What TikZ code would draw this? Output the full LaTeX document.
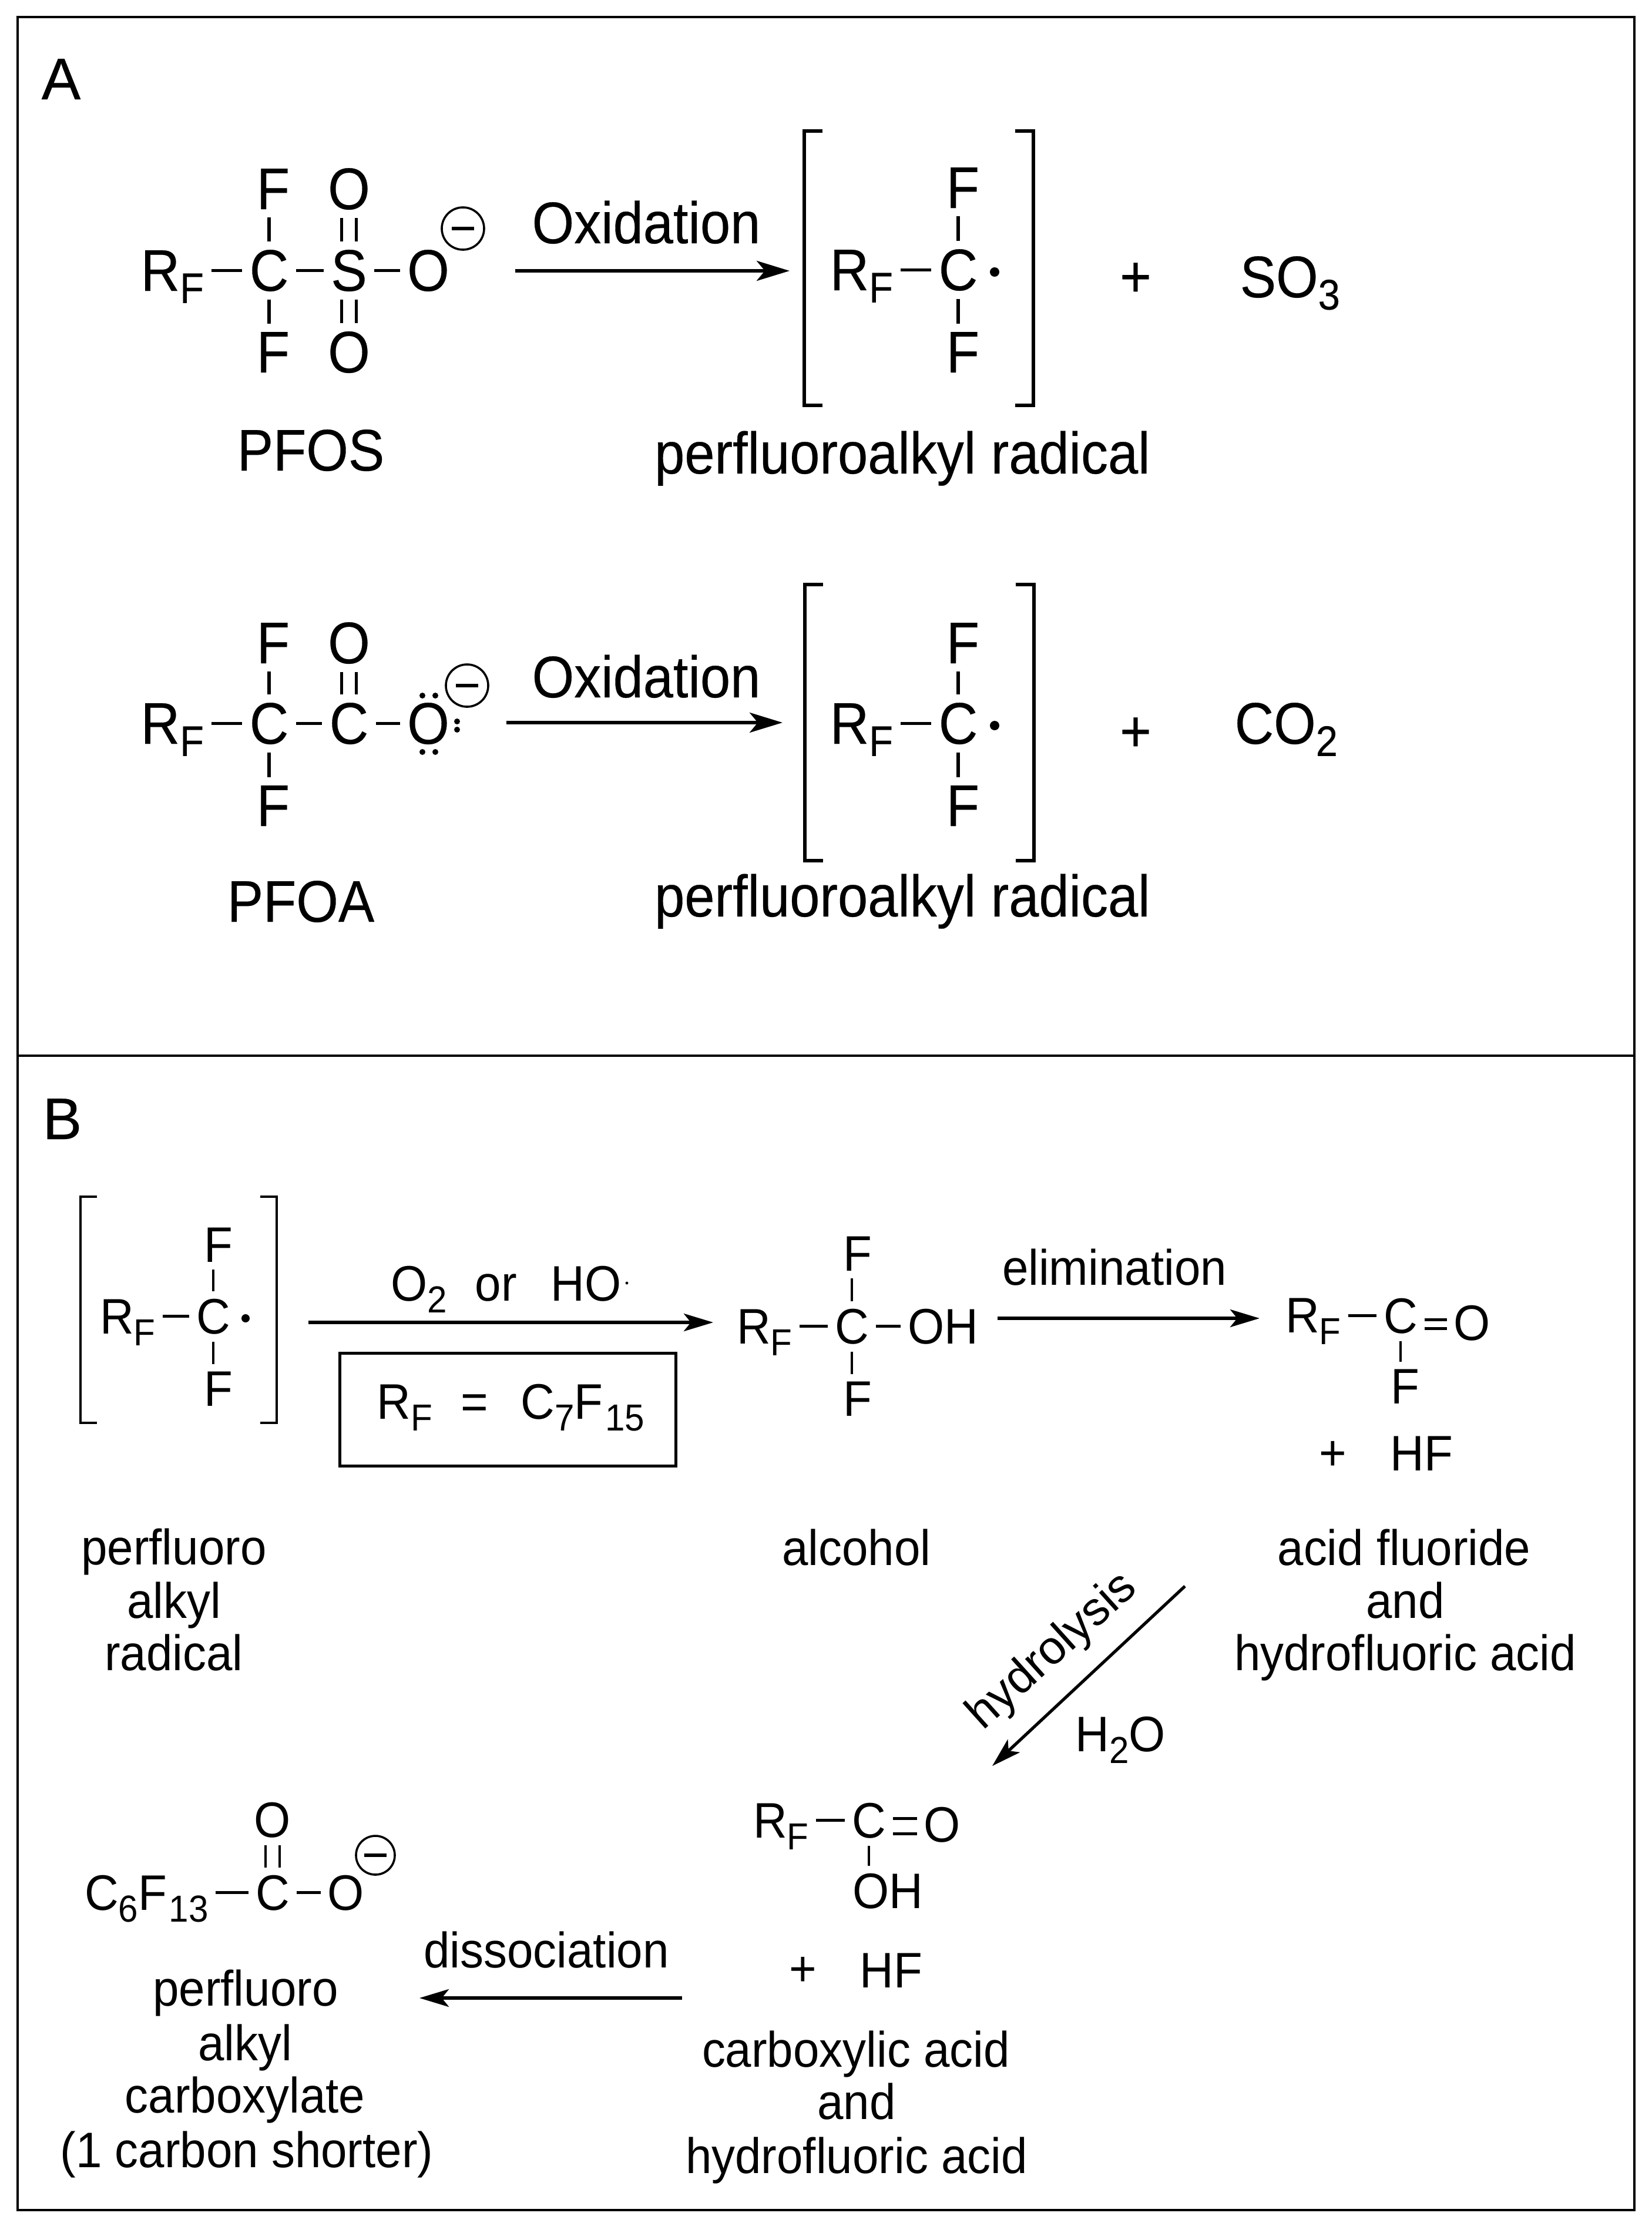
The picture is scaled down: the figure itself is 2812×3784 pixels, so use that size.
\documentclass[tikz,border=0pt]{standalone}
\usepackage{fontspec}
\setmainfont{Liberation Sans}
\newfontfamily\afont[FakeBold=0.3]{Liberation Sans}
\usetikzlibrary{arrows.meta}
\newcommand\fontA{\afont\fontsize{25}{30}\selectfont}
\newcommand\fontB{\normalfont\fontsize{21.25}{26}\selectfont}
\newcommand\sbA[1]{\raisebox{-5.2pt}{\fontsize{18.2}{20}\selectfont #1}}
\newcommand\sbB[1]{\raisebox{-5pt}{\fontsize{16}{18}\selectfont #1}}
\tikzset{
  atomA/.style={font=\fontA,xscale=.92,inner sep=3.25pt,anchor=base},
  atomB/.style={font=\fontB,xscale=.94,inner sep=3pt,anchor=base},
  lblA/.style={atomA,inner sep=0pt},
  lblB/.style={atomB,inner sep=0pt},
  bondA/.style={line width=1.3pt},
  bondB/.style={line width=1.15pt},
  brkA/.style={line width=1.4pt,line cap=butt,line join=miter},
  brkB/.style={line width=1.2pt,line cap=butt,line join=miter},
  arrA/.style={line width=1.4pt,-{Stealth[length=14pt,width=8.5pt,inset=3.5pt]}},
  arrB/.style={line width=1.3pt,-{Stealth[length=12.5pt,width=7.5pt,inset=3pt]}},
  frameline/.style={line width=1.2pt},
  chg/.style={circle,draw,line width=.9pt,inner sep=0pt,minimum size=#1,
    path picture={\draw[line width=1.3pt] ([xshift=-4.8pt]path picture bounding box.center) -- ([xshift=4.8pt]path picture bounding box.center);}},
  lp/.style={circle,fill=black,inner sep=0pt,minimum size=2.5pt},
  rdot/.style={circle,fill=black,inner sep=0pt,minimum size=4pt},
}
\newcommand\brk[6]{\draw[#1] (#2+#6,#4) -| (#2,#5) -- (#2+#6,#5);
  \draw[#1] (#3-#6,#4) -| (#3,#5) -- (#3-#6,#5);}
\newcommand\radA[4]{%
  \node[atomA,anchor=base west] (rf#1) at (1400,#2) {R\sbA{F}};
  \node[atomA] (c#1) at (1631,#2) {C};
  \node[atomA] (ft#1) at (1639,#3) {F};
  \node[atomA] (fb#1) at (1639,#4) {F};
  \node[rdot] (d#1) at (1693,#2-31) {};
  \draw[bondA] (c#1.west -| rf#1.east) -- (c#1.west);
  \draw[bondA] (c#1.north) -- (c#1.north |- ft#1.south);
  \draw[bondA] (c#1.south) -- (c#1.south |- fb#1.north);
}
\begin{document}
\begin{tikzpicture}[x=.25pt,y=-.25pt]
\useasboundingbox (0,0) rectangle (2812,3784);
% frames
\draw[frameline] (30,29) rectangle (2782,1797);
\draw[frameline] (30,1797) rectangle (2782,3762);
\node[font=\fontA,inner sep=0pt,anchor=base] (lA) at (104,169) {A};
\node[font=\fontA,inner sep=0pt,anchor=base] (lB) at (106,1939) {B};

% ---- PFOS
\node[atomA,anchor=base west] (rfa) at (227,495) {R\sbA{F}};
\node[atomA] (ca) at (458,495) {C};
\node[atomA] (fta) at (465,356) {F};
\node[atomA] (fba) at (465,634) {F};
\node[atomA] (sa) at (594,495) {S};
\node[atomA] (ota) at (594,356) {O};
\node[atomA] (oba) at (594,634) {O};
\node[atomA] (oa) at (729,495) {O};
\node[chg=18pt] (cha) at (788,389) {};
\draw[bondA] (ca.west -| rfa.east) -- (ca.west);
\draw[bondA] (ca.east) -- (sa.west);
\draw[bondA] (sa.east) -- (oa.west);
\draw[bondA] (ca.north) -- (ca.north |- fta.south);
\draw[bondA] (ca.south) -- (ca.south |- fba.north);
\draw[bondA] ([xshift=-3.1pt]ota.south) -- ([xshift=-3.1pt]sa.north);
\draw[bondA] ([xshift=3.1pt]ota.south) -- ([xshift=3.1pt]sa.north);
\draw[bondA] ([xshift=-3.1pt]sa.south) -- ([xshift=-3.1pt]oba.north);
\draw[bondA] ([xshift=3.1pt]sa.south) -- ([xshift=3.1pt]oba.north);
\coordinate (a1s) at (877,461);
\coordinate (a1e) at (1344,461);
\draw[arrA] (a1s) -- (a1e);
\node[lblA] (ox1) at (1100,414) {Oxidation};
\node[lblA] (pfos) at (529,801) {PFOS};
\brk{brkA}{1369}{1759}{223}{690}{31}
\radA{p}{494}{354}{634}
\node[lblA] (plus1) at (1933,505) {+};
\node[lblA,anchor=base west] (so3) at (2110,506) {SO\sbA{3}};
\node[lblA] (pr1) at (1536,806) {perfluoroalkyl radical};

% ---- PFOA
\node[atomA,anchor=base west] (rfb) at (227,1266) {R\sbA{F}};
\node[atomA] (cb) at (458,1266) {C};
\node[atomA] (ftb) at (465,1129) {F};
\node[atomA] (fbb) at (465,1406) {F};
\node[atomA] (c2b) at (594,1266) {C};
\node[atomA] (otb) at (594,1129) {O};
\node[atomA] (ob) at (729,1266) {O};
\node[chg=18pt] (chb) at (795,1167) {};
\draw[bondA] (cb.west -| rfb.east) -- (cb.west);
\draw[bondA] (cb.east) -- (c2b.west);
\draw[bondA] (c2b.east) -- (ob.west);
\draw[bondA] (cb.north) -- (cb.north |- ftb.south);
\draw[bondA] (cb.south) -- (cb.south |- fbb.north);
\draw[bondA] ([xshift=-3.1pt]otb.south) -- ([xshift=-3.1pt]c2b.north);
\draw[bondA] ([xshift=3.1pt]otb.south) -- ([xshift=3.1pt]c2b.north);
\node[lp] (lp1) at (719,1184) {};
\node[lp] (lp2) at (741,1184) {};
\node[lp] (lp3) at (719,1280) {};
\node[lp] (lp4) at (741,1280) {};
\node[lp] (lp5) at (778,1228) {};
\node[lp] (lp6) at (778,1242) {};
\coordinate (a2s) at (862,1230);
\coordinate (a2e) at (1332,1230);
\draw[arrA] (a2s) -- (a2e);
\node[lblA] (ox2) at (1100,1187) {Oxidation};
\node[lblA] (pfoa) at (512,1569) {PFOA};
\brk{brkA}{1370}{1760}{995}{1465}{31}
\radA{q}{1266}{1129}{1406}
\node[lblA] (plus2) at (1933,1279) {+};
\node[lblA,anchor=base west] (co2) at (2101,1266) {CO\sbA{2}};
\node[lblA] (pr2) at (1536,1560) {perfluoroalkyl radical};

% ---- panel B: radical
\brk{brkB}{137}{471}{2037}{2422}{28}
\node[atomB,anchor=base west] (rfr) at (158,2270) {R\sbB{F}};
\node[atomB] (cr) at (363,2270) {C};
\node[atomB] (ftr) at (372,2148) {F};
\node[atomB] (fbr) at (372,2393) {F};
\node[rdot,minimum size=3.5pt] (dr) at (418,2244) {};
\draw[bondB] (cr.west -| rfr.east) -- (cr.west);
\draw[bondB] (cr.north) -- (cr.north |- ftr.south);
\draw[bondB] (cr.south) -- (cr.south |- fbr.north);
\coordinate (b1s) at (525,2251);
\coordinate (b1e) at (1214,2251);
\draw[arrB] (b1s) -- (b1e);
\node[lblB,anchor=base west] (o2) at (665,2214) {O\sbB{2}};
\node[lblB,anchor=base west] (orw) at (808,2214) {or};
\node[lblB,anchor=base west] (ho) at (937,2214) {HO};
\node[circle,fill=black,inner sep=0pt,minimum size=1.2pt] (hod) at (1067,2184) {};
\node[draw,line width=1.25pt,inner sep=0pt,minimum width=143pt,minimum height=48pt] (rfbox) at (864,2399) {};
\node[lblB,anchor=base west] (rfeq) at (641,2415) {R\sbB{F}};
\node[lblB] (eq) at (808,2415) {=};
\node[lblB,anchor=base west] (c7) at (886,2415) {C\sbB{7}F\kern1pt\sbB{15}};
\node[lblB] (t1) at (296,2663) {perfluoro};
\node[lblB] (t2) at (296,2754) {alkyl};
\node[lblB] (t3) at (296,2843) {radical};

% ---- alcohol
\node[atomB,anchor=base west] (rfc) at (1242,2287) {R\sbB{F}};
\node[atomB] (cc) at (1450,2287) {C};
\node[atomB] (ftc) at (1460,2163) {F};
\node[atomB] (fbc) at (1460,2410) {F};
\node[atomB,anchor=base west] (oh) at (1533,2287) {OH};
\draw[bondB] (cc.west -| rfc.east) -- (cc.west);
\draw[bondB] (cc.east) -- (oh.west);
\draw[bondB] (cc.north) -- (cc.north |- ftc.south);
\draw[bondB] (cc.south) -- (cc.south |- fbc.north);
\node[lblB] (t4) at (1458,2664) {alcohol};
\coordinate (b2s) at (1698,2244);
\coordinate (b2e) at (2144,2244);
\draw[arrB] (b2s) -- (b2e);
\node[lblB] (elim) at (1897,2187) {elimination};

% ---- acid fluoride
\node[atomB,anchor=base west] (rfd) at (2176,2268) {R\sbB{F}};
\node[atomB] (cd) at (2384,2269) {C};
\node[atomB] (od) at (2506,2281) {O};
\node[atomB] (ffd) at (2392,2389) {F};
\draw[bondB] (cd.west -| rfd.east) -- (cd.west);
\draw[bondB] ([yshift=-1.75pt]cd.east) -- ([yshift=1.25pt]od.west);
\draw[bondB] ([yshift=-5.5pt]cd.east) -- ([yshift=-2.5pt]od.west);
\draw[bondB] (cd.south) -- (cd.south |- ffd.north);
\node[lblB] (plus3) at (2269,2502) {+};
\node[lblB,anchor=base west] (hf1) at (2366,2503) {HF};
\node[lblB] (t5) at (2390,2664) {acid fluoride};
\node[lblB] (t6) at (2392,2754) {and};
\node[lblB] (t7) at (2392,2843) {hydrofluoric acid};

% ---- hydrolysis
\coordinate (b3s) at (2017,2700);
\coordinate (b3e) at (1689,3006);
\draw[arrB] (b3s) -- (b3e);
\node[font=\normalfont\fontsize{20}{24}\selectfont,inner sep=0pt,anchor=base,rotate=42] (hyd) at (1806,2827) {hydrolysis};
\node[lblB,anchor=base west] (h2o) at (1830,2981) {H\sbB{2}O};

% ---- carboxylic acid
\node[atomB,anchor=base west] (rfe) at (1270,3128) {R\sbB{F}};
\node[atomB] (ce) at (1479,3128) {C};
\node[atomB] (oe) at (1604,3135) {O};
\node[atomB,anchor=base west] (ohe) at (1439,3248) {OH};
\draw[bondB] (ce.west -| rfe.east) -- (ce.west);
\draw[bondB] ([yshift=.75pt]ce.east) -- ([yshift=2.5pt]oe.west);
\draw[bondB] ([yshift=-5.75pt]ce.east) -- ([yshift=-4pt]oe.west);
\draw[bondB] (ce.south) -- (ce.south |- ohe.north);
\node[lblB] (plus4) at (1367,3380) {+};
\node[lblB,anchor=base west] (hf2) at (1463,3383) {HF};
\node[lblB] (t8) at (1457,3518) {carboxylic acid};
\node[lblB] (t9) at (1458,3607) {and};
\node[lblB] (t10) at (1458,3699) {hydrofluoric acid};

% ---- dissociation
\coordinate (b4s) at (1161,3401);
\coordinate (b4e) at (714,3401);
\draw[arrB] (b4s) -- (b4e);
\node[lblB] (diss) at (930,3349) {dissociation};

% ---- carboxylate
\node[atomB,anchor=base west] (c6) at (132,3251) {C\sbB{6}F\kern1pt\sbB{13}};
\node[atomB] (cg) at (464,3251) {C};
\node[atomB] (otg) at (464,3127) {O};
\node[atomB] (og) at (589,3251) {O};
\node[chg=16.5pt] (chg) at (639,3158) {};
\draw[bondB] (cg.west -| c6.east) -- (cg.west);
\draw[bondB] (cg.east) -- (og.west);
\draw[bondB] ([xshift=-3pt]otg.south) -- ([xshift=-3pt]cg.north);
\draw[bondB] ([xshift=3pt]otg.south) -- ([xshift=3pt]cg.north);
\node[lblB] (t11) at (418,3414) {perfluoro};
\node[lblB] (t12) at (417,3507) {alkyl};
\node[lblB] (t13) at (417,3596) {carboxylate};
\node[lblB] (t14) at (420,3689) {(1 carbon shorter)};
\end{tikzpicture}
\end{document}
